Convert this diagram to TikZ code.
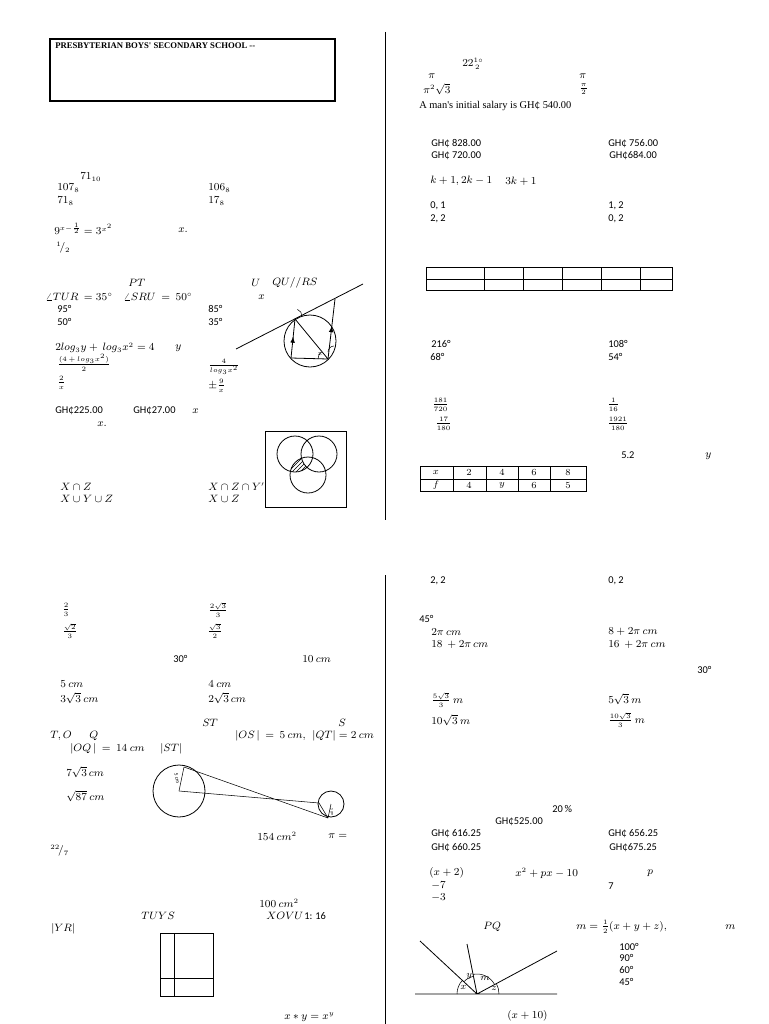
\documentclass[tikz,border=0pt]{standalone}
\usepackage{fontspec}
\setmainfont{Carlito}
\newfontfamily\lser{Liberation Serif}
\newfontfamily\dv{DejaVu Sans}
\usetikzlibrary{patterns,decorations.markings}
\newcounter{tn}
\newcommand\T[3]{\stepcounter{tn}\node[txt] (t\arabic{tn}) at (#1,#2) {#3};}
\newcommand\GH[1]{GH{\dv\fontsize{6.5}{7}\selectfont ₵}#1}
\begin{document}
\begin{tikzpicture}[x=0.75pt,y=-0.75pt,
  txt/.style={anchor=west,inner sep=0pt,font=\fontsize{7.8}{8}\selectfont},
  fig/.style={line width=0.6pt},
  mid/.style={postaction={decorate},decoration={markings,mark=at position 0.55 with {\arrow{latex}}}}]
\useasboundingbox (0,0) rectangle (768,1024);
\fill[white] (0,0) rectangle (768,1024);
% header
\node[draw,line width=1.2pt,minimum width=213.75pt,minimum height=46.5pt,anchor=north west,inner sep=0pt] (hdr) at (49,38) {};
\node[anchor=north west,inner sep=0pt,font=\lser\fontsize{6.5}{7}\selectfont\bfseries] (htx) at (55,42) {PRESBYTERIAN BOYS' SECONDARY SCHOOL --};
\draw[line width=0.6pt] (385,32) -- (385,520);
\draw[line width=0.6pt] (385,575) -- (385,1024);
% left top
\T{80}{177}{$71_{10}$}
\T{57}{188}{$107_8$} \T{208}{188}{$106_8$}
\T{57}{201}{$71_8$} \T{208}{201}{$17_8$}
\T{54}{229}{$9^{x-\frac12}=3^{x^2}$} \T{178}{230}{$x.$}
\T{56}{248}{$^1\!/_2$}
\T{128}{283}{$PT$} \T{251}{283}{$U$} \T{272}{283}{$QU//RS$}
\T{45}{297}{$\angle TUR\ =35^\circ$} \T{123}{297}{$\angle SRU\ =\ 50^\circ$} \T{258}{297}{$x$}
\T{57}{309}{95°} \T{208}{309}{85°}
\T{57}{322}{50°} \T{208}{322}{35°}
\T{55}{348}{$2log_3y+\ log_3x^2=4$} \T{175}{348}{$y$}
\T{57}{363}{$\frac{(4\,+\,log_3x^2)}{2}$} \T{208}{367}{$\frac{4}{log_3x^2}$}
\T{57}{383}{$\frac{2}{x}$} \T{208}{386}{$\pm\frac{9}{x}$}
\T{55}{411}{\GH{225.00}} \T{133}{411}{\GH{27.00}} \T{192}{411}{$x$}
\T{97}{424}{$x.$}
\T{60}{487}{$X\cap Z$} \T{208}{487}{$X\cap Z\cap Y'$}
\T{60}{499}{$X\cup Y\cup Z$} \T{208}{499}{$X\cup Z$}
% circle figure
\coordinate (ta) at (236,349); \coordinate (tb) at (363,284);
\draw[fig] (ta) -- (tb);
\draw[fig] (310,341) circle (26);
\coordinate (pu) at (295,319); \coordinate (pq) at (335,299);
\coordinate (pr) at (291,358); \coordinate (ps) at (328,359);
\draw[fig,mid] (pr) -- (pu);
\draw[fig,mid] (ps) -- (pq);
\draw[fig] (pu) -- (ps) (pr) -- (ps);
\draw[line width=0.4pt] (302,316) arc (0:-70:7);
\draw[line width=0.4pt] (318,359) arc (180:230:9);
\draw[line width=0.4pt] (334,346) arc (-90:-180:6);
\T{317}{354}{\tiny$x$}
% venn
\draw[fig] (265,431) rectangle (346,507);
\begin{scope}
\clip (295,454) circle (18);
\clip (308,475) circle (18);
\fill[pattern=north east lines] (270,440) rectangle (312,500);
\fill[white] (319,454) circle (18);
\end{scope}
\draw[fig] (295,454) circle (18) (319,454) circle (18) (308,475) circle (18);
% right top
\T{462}{64}{$22^{1\circ}_{\,2}$}
\T{428}{76}{$\pi$} \T{579}{76}{$\pi$}
\T{423}{89}{$\pi^2\sqrt3$} \T{579}{89}{$\frac{\pi}{2}$}
\T{419}{106}{\lser A man's initial salary is \GH{ 540.00}}
\T{431}{144}{\GH{ 828.00}} \T{608}{144}{\GH{ 756.00}}
\T{431}{156}{\GH{ 720.00}} \T{609}{156}{\GH{684.00}}
\T{430}{181}{$k+1,2k-1$} \T{505}{181}{$3k+1$}
\T{430}{206}{0, 1} \T{608}{206}{1, 2}
\T{430}{219}{2, 2} \T{608}{219}{0, 2}
\draw[fig] (426,267) rectangle (672,290) (426,279) -- (672,279);
\foreach \c in {484,523,562,601,640} \draw[fig] (\c,267) -- (\c,290);
\T{431}{344}{216°} \T{608}{344}{108°}
\T{430}{357}{68°} \T{608}{357}{54°}
\T{432}{405}{$\frac{181}{720}$} \T{607}{405}{$\frac{1}{16}$}
\T{435}{424}{$\frac{17}{180}$} \T{607}{424}{$\frac{1921}{180}$}
\T{621}{455}{5.2} \T{705}{456}{$y$}
\draw[fig] (420,466) rectangle (586,491) (420,479) -- (586,479);
\foreach \c in {453,486,518,550} \draw[fig] (\c,466) -- (\c,491);
\foreach \v/\c in {x/436,2/469,4/502,6/534,8/568} {\stepcounter{tn}\node[inner sep=0pt,font=\lser\fontsize{7.5}{8}\selectfont] (c\arabic{tn}) at (\c,472.5) {$\v$};}
\foreach \v/\c in {f/436,4/469,y/502,6/534,5/568} {\stepcounter{tn}\node[inner sep=0pt,font=\lser\fontsize{7.5}{8}\selectfont] (c\arabic{tn}) at (\c,485) {$\v$};}
% bottom left
\T{62}{610}{$\frac23$} \T{208}{610}{$\frac{2\sqrt3}{3}$}
\T{62}{631}{$\frac{\sqrt2}{3}$} \T{207}{631}{$\frac{\sqrt3}{2}$}
\T{173}{659}{30°} \T{302}{659}{$10\ cm$}
\T{60}{684}{$5\ cm$} \T{208}{684}{$4\ cm$}
\T{60}{698}{$3\sqrt3\ cm$} \T{208}{698}{$2\sqrt3\,cm$}
\T{202}{723}{$ST$} \T{338}{723}{$S$}
\T{50}{736}{$T,O$} \T{89}{736}{$Q$} \T{235}{736}{$|OS\,|\ =\ 5\ cm,\ \ |QT|=2\ cm$}
\T{70}{749}{$|OQ\,|\ =\ 14\ cm$} \T{160}{749}{$|ST|$}
\T{66}{772}{$7\sqrt3\,cm$}
\T{66}{796}{$\sqrt{87}\ cm$}
\coordinate (o1) at (179,791); \coordinate (s1) at (184,767);
\coordinate (o2) at (331,804); \coordinate (q2) at (319,803); \coordinate (t2) at (328,818);
\draw[fig] (o1) circle (26) (o2) circle (13);
\draw[line width=0.4pt] (s1) -- (t2) (o1) -- (q2) (o1) -- (s1) (q2) -- (t2) (o2) -- (t2);
\node[rotate=-80,inner sep=0pt,font=\fontsize{4}{4}\selectfont] (l5) at (177,778) {5 cm};
\node[rotate=-80,inner sep=0pt,font=\fontsize{3}{3}\selectfont] (l2) at (332,812) {2 cm};
\T{257}{836}{$154\ cm^2$} \T{328}{836}{$\pi=$}
\T{50}{851}{$^{22}\!/_7$}
\T{259}{903}{$100\ cm^2$}
\T{141}{916}{$TUYS$} \T{266}{916}{$XOVU$} \T{304}{916}{1: 16}
\T{51}{929}{$|YR|$}
\draw[fig] (160,933) rectangle (213,996) (174,933) -- (174,996) (160,978) -- (213,978);
\T{284}{1017}{$x*y=x^y$}
% bottom right
\T{430}{581}{2, 2} \T{608}{581}{0, 2}
\T{419}{619}{45°}
\T{431}{632}{$2\pi\ cm$} \T{608}{632}{$8+2\pi\ cm$}
\T{431}{645}{$18\ +2\pi\,cm$} \T{608}{645}{$16\ +2\pi\ cm$}
\T{697}{670}{30°}
\T{431}{700}{$\frac{5\sqrt3}{3}\ m$} \T{608}{699}{$5\sqrt3\ m$}
\T{431}{720}{$10\sqrt3\ m$} \T{608}{720}{$\frac{10\sqrt3}{3}\ m$}
\T{552}{809}{20\,\%}
\T{495}{822}{\GH{525.00}}
\T{431}{834}{\GH{ 616.25}} \T{608}{834}{\GH{ 656.25}}
\T{431}{848}{\GH{ 660.25}} \T{609}{848}{\GH{675.25}}
\T{429}{873}{$(x+2)$} \T{515}{873}{$x^2+px-10$} \T{647}{873}{$p$}
\T{431}{886}{$-7$} \T{608}{886}{7}
\T{431}{898}{$-3$}
\T{483}{927}{$PQ$} \T{576}{927}{$m=\frac12(x+y+z),$} \T{725}{927}{$m$}
\T{619}{947}{100°} \T{619}{958}{90°} \T{619}{970}{60°} \T{619}{982}{45°}
\coordinate (bo) at (477,994);
\coordinate (ba) at (415,994); \coordinate (bb) at (557,994);
\coordinate (r1) at (420,941); \coordinate (r2) at (467,944); \coordinate (r3) at (557,951);
\draw[fig] (ba) -- (bb) (bo) -- (r1) (bo) -- (r2) (bo) -- (r3);
\draw[line width=0.4pt] (bo) ++(180:20) arc (180:223:20);
\draw[line width=0.4pt] (bo) ++(223:18) arc (223:259:18);
\draw[line width=0.4pt] (bo) ++(259:20) arc (259:332:20);
\draw[line width=0.4pt] (bo) ++(332:22) arc (332:360:22);
\T{460}{987}{\scriptsize$x$} \T{466}{976}{\scriptsize$y$} \T{480}{978}{\scriptsize$m$} \T{491}{988}{\scriptsize$z$}
\T{507}{1016}{$(x+10)$}
\end{tikzpicture}
\end{document}
